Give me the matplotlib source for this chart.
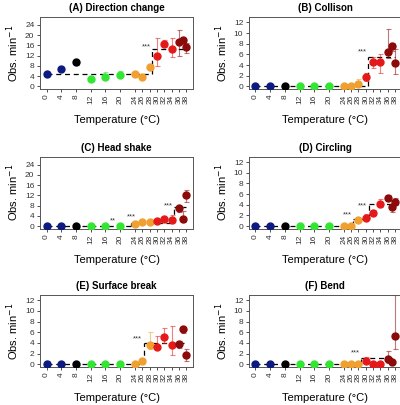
import matplotlib
matplotlib.use('Agg')
import matplotlib.pyplot as plt

plt.rcParams['font.family'] = ['Liberation Sans', 'DejaVu Sans']

# temperatures (°C) of each group
temps = [0, 4, 8, 12, 16, 20, 24, 26, 28, 30, 32, 34, 36, 37, 38]
tick_temps = [0, 4, 8, 12, 16, 20, 24, 26, 28, 30, 32, 34, 36, 38]

# group colours
navy, black, green, orange, red, dred = '#0d1a80', '#000000', '#33e633', '#f0a030', '#e41a1a', '#8b0a0a'
point_colors = [navy, navy, black, green, green, green, orange, orange, orange,
                red, red, red, dred, dred, dred]

titles = ['(A) Direction change', '(B) Collison', '(C) Head shake',
          '(D) Circling', '(E) Surface break', '(F) Bend']

# means and error limits
dir_mean = [5.0, 6.8, 9.5, 2.7, 3.6, 4.3, 5.0, 3.6, 7.4, 12.0, 16.7, 14.5, 17.4, 18.2, 15.2]
dir_lo = [4.3, 6.3, 8.2, 2.3, 3.2, 3.9, 4.6, 3.3, 6.5, 8.0, 15.5, 11.5, 12.0, 17.2, 13.0]
dir_hi = [5.4, 7.3, 9.9, 3.1, 5.5, 6.0, 5.4, 4.0, 8.5, 19.0, 18.0, 19.0, 22.0, 18.8, 17.0]

col_mean = [0.1, 0.1, 0.1, 0.1, 0.1, 0.1, 0.05, 0.05, 0.4, 1.8, 4.6, 4.5, 6.5, 7.5, 4.4]
col_lo = [0.0, 0.0, 0.0, 0.0, 0.0, 0.0, 0.0, 0.0, 0.1, 1.0, 3.5, 2.6, 5.4, 6.6, 2.3]
col_hi = [0.3, 0.3, 0.3, 0.3, 0.3, 0.3, 0.2, 0.2, 1.3, 2.6, 5.6, 6.1, 10.7, 8.1, 7.0]

hs_mean = [0.0, 0.0, 0.0, 0.0, 0.0, 0.0, 0.8, 1.8, 1.5, 2.0, 2.7, 2.4, 7.0, 2.6, 12.0]
hs_lo = [0.0, 0.0, 0.0, 0.0, 0.0, 0.0, 0.3, 1.2, 0.8, 1.6, 2.2, 1.5, 5.5, 1.5, 9.5]
hs_hi = [0.1, 0.1, 0.1, 0.1, 0.1, 0.1, 1.2, 2.3, 2.0, 2.4, 3.2, 4.5, 7.8, 6.0, 14.0]

cir_mean = [0.0, 0.0, 0.0, 0.0, 0.0, 0.0, 0.0, 0.1, 1.2, 1.5, 2.5, 4.1, 5.3, 3.6, 4.6]
cir_lo = [0.0, 0.0, 0.0, 0.0, 0.0, 0.0, 0.0, 0.0, 0.9, 1.1, 2.0, 3.5, 4.8, 2.6, 3.9]
cir_hi = [0.1, 0.1, 0.1, 0.1, 0.1, 0.1, 0.1, 0.3, 1.5, 2.2, 3.1, 5.0, 5.9, 4.2, 5.3]

sb_mean = [0.1, 0.1, 0.05, 0.0, 0.0, 0.0, 0.0, 0.6, 3.7, 3.3, 5.1, 3.7, 3.8, 6.6, 1.7]
sb_lo = [0.0, 0.0, 0.0, 0.0, 0.0, 0.0, 0.0, 0.3, 2.8, 2.8, 4.0, 1.8, 3.0, 5.8, 0.7]
sb_hi = [0.6, 0.3, 0.2, 0.1, 0.1, 0.1, 0.1, 1.0, 6.1, 5.2, 6.7, 7.2, 4.3, 7.0, 2.8]

bend_mean = [0.0, 0.0, 0.0, 0.0, 0.0, 0.0, 0.0, 0.0, 0.05, 0.6, 0.0, 0.0, 1.0, 0.4, 5.2]
bend_lo = [0.0, 0.0, 0.0, 0.0, 0.0, 0.0, 0.0, 0.0, 0.0, 0.2, 0.0, 0.0, 0.3, 0.1, 2.8]
bend_hi = [0.1, 0.1, 0.1, 0.1, 0.1, 0.1, 0.1, 0.1, 0.2, 1.3, 0.1, 0.1, 2.5, 0.8, 13.0]

# dashed group means: break points and levels
dir_steps = ([0, 28.6, 38], [5.0, 14.5])
col_steps = ([0, 30.5, 38], [0.0, 5.5])
hs_steps = ([0, 23, 34.6, 38], [0.0, 1.3, 7.3])
cir_steps = ([0, 26.6, 30.8, 38], [0.0, 1.4, 4.2])
sb_steps = ([0, 26.4, 38], [0.0, 4.0])
bend_steps = ([0, 28.8, 38], [0.0, 1.25])

# significance labels (x, y, text)
dir_stars = [(27.0, 15.4, '***')]
col_stars = [(29.2, 6.4, '***')]
hs_stars = [(18.0, 2.0, '**'), (23.0, 3.7, '***'), (33.2, 8.0, '***')]
cir_stars = [(25.1, 2.1, '***'), (29.2, 3.8, '***')]
sb_stars = [(24.8, 4.7, '***')]
bend_stars = [(27.1, 2.15, '***')]

panels = [
    (dir_mean, dir_lo, dir_hi, dir_steps, dir_stars, 26, [0, 4, 8, 12, 16, 20, 24]),
    (col_mean, col_lo, col_hi, col_steps, col_stars, 12.5, [0, 2, 4, 6, 8, 10, 12]),
    (hs_mean, hs_lo, hs_hi, hs_steps, hs_stars, 26, [0, 4, 8, 12, 16, 20, 24]),
    (cir_mean, cir_lo, cir_hi, cir_steps, cir_stars, 12.5, [0, 2, 4, 6, 8, 10, 12]),
    (sb_mean, sb_lo, sb_hi, sb_steps, sb_stars, 12.5, [0, 2, 4, 6, 8, 10, 12]),
    (bend_mean, bend_lo, bend_hi, bend_steps, bend_stars, 12.5, [0, 2, 4, 6, 8, 10, 12]),
]

fig = plt.figure(figsize=(4, 4.05), dpi=100)

lefts = [0.10, 0.622]
bottoms = [0.780, 0.435, 0.094]
w, h = 0.3825, 0.178

for i, (mean, lo, hi, steps, stars, ytop, yticks) in enumerate(panels):
    ax = fig.add_axes([lefts[i % 2], bottoms[i // 2], w, h])

    # dashed step line of group means
    xs, levels = steps
    for k, lev in enumerate(levels):
        ax.plot([xs[k], xs[k + 1]], [lev, lev], color='black', ls=(0, (4, 3)), lw=0.9, zorder=1)
        if k > 0:
            ax.plot([xs[k], xs[k]], [levels[k - 1], lev], color='black', ls=(0, (4, 3)), lw=0.9, zorder=1)

    for t, m, l, u, c in zip(temps, mean, lo, hi, point_colors):
        ax.errorbar(t, m, yerr=[[m - l], [u - m]], fmt='none', ecolor=c, alpha=0.55,
                    elinewidth=0.8, capsize=1.8, capthick=0.8, zorder=2)
        ax.plot(t, m, 'o', color=c, ms=5, mec=c, zorder=3)

    for sx, sy, s in stars:
        ax.text(sx, sy, s, fontsize=5.5, ha='center', va='center', color='#333333')

    ax.set_xlim(-1.8, 39.8)
    ax.set_ylim(-ytop * 0.04, ytop * 1.04)
    ax.set_xticks(tick_temps)
    ax.set_xticklabels([str(t) for t in tick_temps], rotation=90, fontsize=6)
    ax.set_yticks(yticks)
    ax.set_yticklabels([str(v) for v in yticks], fontsize=6)
    ax.tick_params(length=2.5, width=0.6, pad=1.5, colors='#333333')
    for sp in ax.spines.values():
        sp.set_linewidth(0.7)
        sp.set_color('#555555')

    ax.set_title(titles[i], fontsize=7, fontweight='bold', pad=4)
    ax.set_ylabel('Obs. min$^{-1}$', fontsize=8, labelpad=3)
    ax.set_xlabel('Temperature (°C)', fontsize=8, labelpad=8)

fig.savefig('out.png', dpi=100)
